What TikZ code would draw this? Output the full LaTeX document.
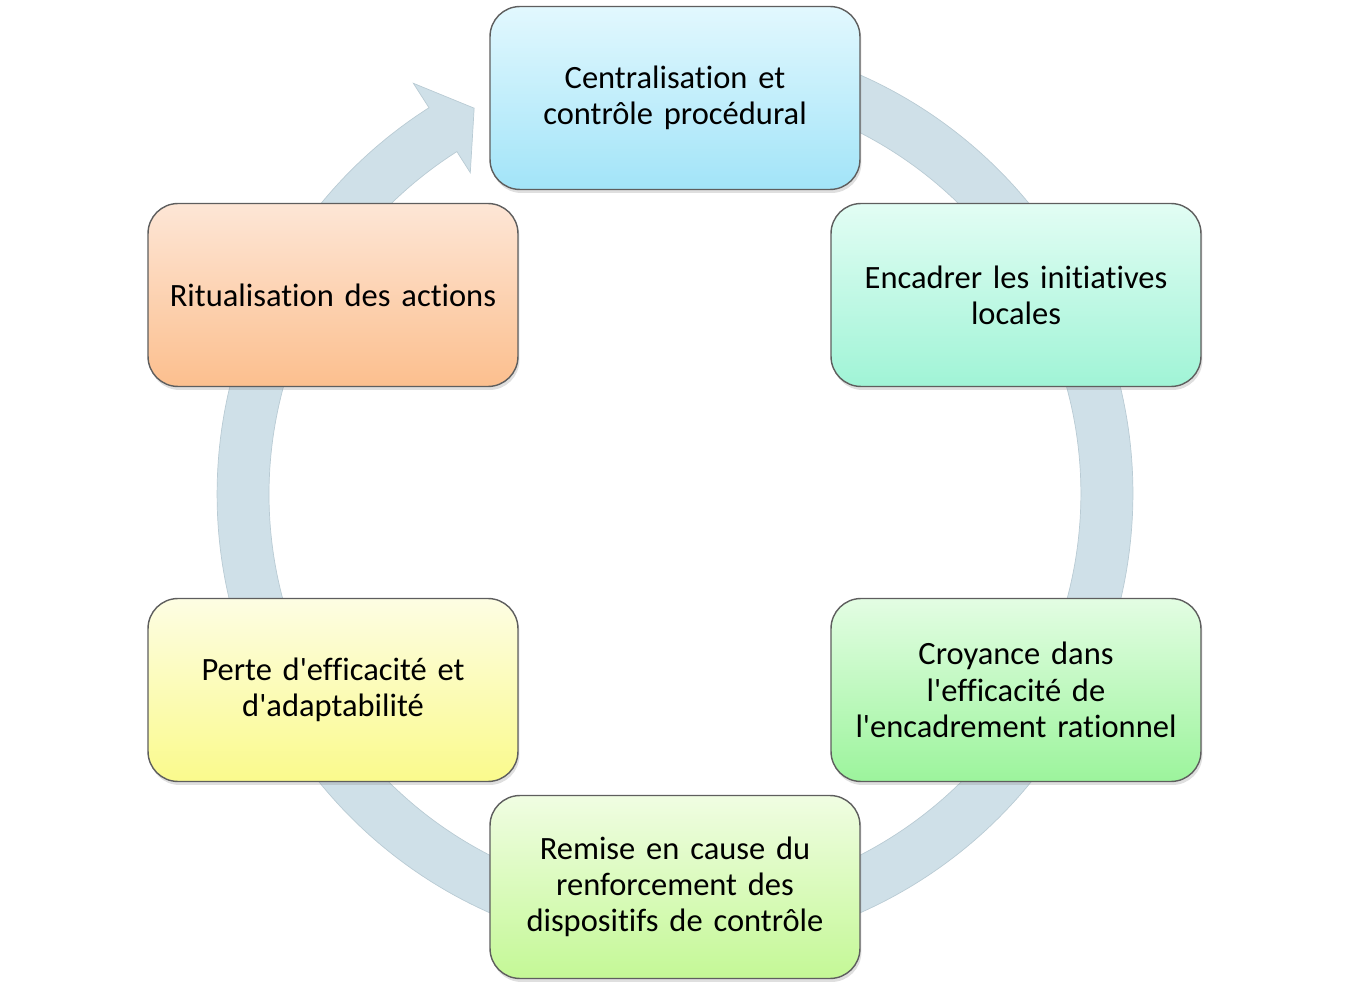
\documentclass[tikz,border=0pt]{standalone}
\usepackage{fontspec}
\setmainfont{Carlito}[Ligatures={TeXOff,NoCommon}]
\usetikzlibrary{shadows}
\definecolor{ringc}{HTML}{CFE0E8}
\definecolor{ringe}{HTML}{B9CBD4}
\definecolor{boxline}{HTML}{5E5E5E}
\definecolor{c1t}{HTML}{E2F8FE}\definecolor{c1b}{HTML}{A2E4F8}
\definecolor{c2t}{HTML}{E2FDF4}\definecolor{c2b}{HTML}{A0F4D6}
\definecolor{c3t}{HTML}{E3FDE3}\definecolor{c3b}{HTML}{9CF49C}
\definecolor{c4t}{HTML}{F0FDE2}\definecolor{c4b}{HTML}{C4F896}
\definecolor{c5t}{HTML}{FDFDE3}\definecolor{c5b}{HTML}{FAFA8C}
\definecolor{c6t}{HTML}{FDE6D6}\definecolor{c6b}{HTML}{FCBF8E}
\tikzset{
  cyclebox/.style={draw=boxline, line width=0.8pt, rounded corners=0.6cm,
    minimum width=7.4cm, minimum height=3.66cm, text width=7.2cm, align=center,
    font=\fontsize{18.5}{20.6}\selectfont, inner sep=0pt,
    drop shadow={opacity=0.25, shadow xshift=0.03cm, shadow yshift=-0.07cm}},
  ringshape/.style={fill=ringc, draw=ringe, line width=0.4pt}
}
\begin{document}
\begin{tikzpicture}[x=0.02cm,y=0.02cm]
\useasboundingbox (0,0) rectangle (1350,992);
\coordinate (C) at (675,498);
\begin{scope}[shift={(C)}]
  \path[ringshape] (85:458) arc[start angle=85,end angle=-237.5,radius=9.16cm]
    -- (122.5:487) -- (117.5:435) -- (122.5:381) -- (122.5:406)
    arc[start angle=-237.5,end angle=85,radius=8.12cm] -- cycle;
\end{scope}
\node[cyclebox, top color=c1t, bottom color=c1b] (b1) at (675,894) {Centralisation et\\contrôle procédural};
\node[cyclebox, top color=c2t, bottom color=c2b] (b2) at (1016,697) {Encadrer les initiatives\\locales};
\node[cyclebox, top color=c3t, bottom color=c3b] (b3) at (1016,302) {Croyance dans\\l'efficacité de\\l'encadrement rationnel};
\node[cyclebox, top color=c4t, bottom color=c4b] (b4) at (675,105) {Remise en cause du\\renforcement des\\dispositifs de contrôle};
\node[cyclebox, top color=c5t, bottom color=c5b] (b5) at (333,302) {Perte d'efficacité et\\d'adaptabilité};
\node[cyclebox, top color=c6t, bottom color=c6b] (b6) at (333,697) {Ritualisation des actions};
\end{tikzpicture}
\end{document}
